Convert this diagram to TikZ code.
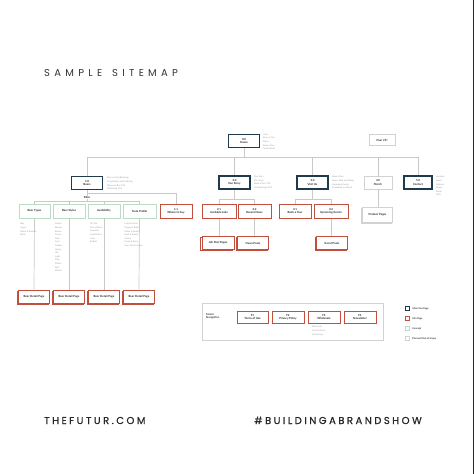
\documentclass[tikz,border=0pt]{standalone}
\usepackage{fontspec}
\setmainfont{Lato}
\newfontfamily\titlefont[LetterSpace=43]{Poppins}
\newfontfamily\tagfont[LetterSpace=25, FakeBold=0.6]{Poppins}
\usetikzlibrary{positioning, shadows}
\definecolor{navy}{HTML}{1E3A4C}
\definecolor{brick}{HTML}{C24F3D}
\definecolor{sage}{HTML}{BCDCC6}
\definecolor{ashgrey}{HTML}{D2D2D2}
\definecolor{wire}{HTML}{C9C9C9}
\definecolor{notegrey}{HTML}{9C9C9C}
\tikzset{
  page/.style={fill=white, minimum width=31pt, minimum height=13pt, inner sep=0pt, align=center, text=black!85, font=\fontsize{2.8}{3.3}\selectfont\bfseries},
  mainnav/.style={page, draw=navy, line width=1.3pt},
  infopage/.style={page, draw=brick, line width=1pt},
  concept/.style={page, draw=sage, line width=0.9pt},
  planned/.style={page, draw=ashgrey, line width=0.9pt},
  stack/.style={copy shadow={shadow xshift=-1.2pt, shadow yshift=-1.2pt, draw=brick, fill=white, line width=1pt}},
  notes/.style={anchor=north west, inner sep=0pt, align=left, text=notegrey, font=\fontsize{2.2}{3.6}\selectfont},
  link/.style={draw=wire, line width=0.7pt},
  keybox/.style={draw=#1, line width=0.8pt, fill=white, minimum size=4.5pt, inner sep=0pt},
  keytext/.style={right=2pt of #1, inner sep=0pt, font=\fontsize{2.4}{3}\selectfont\bfseries, text=black!80},
}

\begin{document}
\begin{tikzpicture}[x=1pt, y=-1pt]
  \useasboundingbox (0,0) rectangle (474,474);
  \fill[black!85] (472.8,0) rectangle (474,474);

  \node[anchor=base west, inner sep=0pt, font=\titlefont\fontsize{10}{12}\selectfont, text=black!80] (title) at (44,76) {SAMPLE\hspace{3pt} SITEMAP};

  % top level
  \node[mainnav] (home) at (244,141) {0.0\\Home};
  \node[planned, minimum width=26pt, minimum height=11pt] (over21) at (382,140) {Over 21?};
  \node[mainnav] (beers) at (87,183) {1.0\\Beers};
  \node[mainnav] (story) at (234.5,182.5) {2.0\\Our Story};
  \node[mainnav] (visit) at (312.5,182.5) {3.0\\Visit Us};
  \node[planned, minimum width=28pt] (merch) at (378,182.5) {4.0\\Merch};
  \node[mainnav, minimum width=28pt] (contact) at (418,182.5) {5.0\\Contact};

  % info pages
  \node[infopage, minimum width=32pt, minimum height=14pt] (buy) at (176,211) {1.1\\Where to buy};
  \node[infopage, minimum width=34pt, minimum height=14pt] (jobs) at (219,211) {2.1\\Available Jobs};
  \node[infopage, minimum width=33pt, minimum height=14pt] (news) at (254.5,211) {2.2\\Recent News};
  \node[infopage, minimum width=32pt, minimum height=14pt] (tour) at (295,211) {3.1\\Book a Tour};
  \node[infopage, minimum width=34pt, minimum height=14pt] (events) at (331,211) {3.2\\Upcoming Events};
  \node[infopage, stack, minimum width=32pt, minimum height=13pt] (jobposts) at (218,243) {Job Post Pages};
  \node[infopage, stack, minimum width=31pt, minimum height=13pt] (newsposts) at (253,243) {News Posts};
  \node[infopage, stack, minimum width=31pt, minimum height=13pt] (eventposts) at (332,243) {Event Posts};
  \node[planned, copy shadow={shadow xshift=-1pt, shadow yshift=-1pt, draw=ashgrey, fill=white}, minimum width=30pt, minimum height=15pt] (products) at (377.5,215) {Product Pages};

  % filter concepts
  \node[concept, minimum height=14pt] (types) at (34.5,211) {Beer Types};
  \node[concept, minimum width=32pt, minimum height=14pt] (styles) at (69,211) {Beer Styles};
  \node[concept, minimum width=32pt, minimum height=14pt] (avail) at (104,211) {Availability};
  \node[concept, minimum width=33pt, minimum height=14pt] (taste) at (139.5,211) {Taste Profile};
  \node[infopage, stack] (d-types) at (34,296.5) {Beer Detail Page};
  \node[infopage, stack] (d-styles) at (69,296.5) {Beer Detail Page};
  \node[infopage, stack] (d-avail) at (104,296.5) {Beer Detail Page};
  \node[infopage, stack] (d-taste) at (139,296.5) {Beer Detail Page};

  % connectors
  \foreach \kid in {beers, story, visit, merch, contact}
    \draw[link] (home.south) -- ++(0,9) -| (\kid.north);
  \draw[link] (beers.south) -- ++(0,3.5) -| (buy.north);
  \foreach \kid in {types, styles, avail, taste}{
    \draw[link] (beers.south) -- ++(0,11) -| (\kid.north);
    \draw[link] (\kid.south) -- (d-\kid.north);
  }
  \foreach \kid in {jobs, news}
    \draw[link] (story.south) -- ++(0,9.5) -| (\kid.north);
  \foreach \kid in {tour, events}
    \draw[link] (visit.south) -- ++(0,9.5) -| (\kid.north);
  \draw[link] (jobs.south) -- (jobs.south |- jobposts.north);
  \draw[link] (news.south) -- (news.south |- newsposts.north);
  \draw[link] (events.south) -- (events.south |- eventposts.north);
  \draw[link] (merch.south) -- (merch.south |- products.north);
  \node[fill=white, inner sep=0.6pt, font=\fontsize{2.6}{3}\selectfont\bfseries] (filter) at (87,197.5) {Filter};

  % notes
  \node[notes] (n-home) at (263,133.5) {Intro\\Beer on Tap\\Menu\\Book a Tour\\Testimonials};
  \node[notes] (n-beers) at (107,177) {Beer on Tap (Rotating)\\List of Beers with Filtering\\Where to Buy CTA\\Wholesale CTA};
  \node[notes] (n-story) at (254,176) {Our Story\\Our Team\\Book a Tour CTA\\Job Openings CTA};
  \node[notes] (n-visit) at (332,176) {Book a Tour\\Hours, Map and Tables\\Upcoming Events\\Guidelines to Attend};
  \node[notes] (n-contact) at (436,176) {Location\\Hours\\Address\\Phone\\Social\\FAQ};
  \node[notes] (n-types) at (20,223) {Ales\\Lagers\\Ciders \& Seltzers\\Malts};
  \node[notes] (n-styles) at (55,223) {Amber\\Blonde\\Brown\\Cream\\Dark\\Fruit\\Golden\\Honey\\IPA\\Light\\Pale\\Pilsner\\Red\\Wheat};
  \node[notes] (n-avail) at (90,223) {On Tap\\Out of Stock\\Seasonal\\Limited Run\\Cans\\Bottles};
  \node[notes] (n-taste) at (124.5,223) {Crisp \& Clean\\Hoppy \& Bitter\\Malty \& Sweet\\Dark \& Roasty\\Smoky\\Fruity \& Spicy\\Sour, Tart \& Funky};

  % footer navigation
  \node[draw=ashgrey, line width=0.8pt, minimum width=181pt, minimum height=37pt, inner sep=0pt] (footer) at (292.5,321.5) {};
  \node[anchor=north west, inner sep=0pt, align=left, font=\fontsize{2.7}{3.3}\selectfont\bfseries, text=black!80] (footlabel) at (206,313) {Footer\\Navigation};
  \node[infopage, minimum height=12pt] (terms) at (252.5,317) {F1\\Terms of Use};
  \node[infopage, minimum width=32pt, minimum height=12pt] (privacy) at (288,317) {F2\\Privacy Policy};
  \node[infopage, minimum width=32pt, minimum height=12pt] (wholesale) at (324,317) {F3\\Wholesale};
  \node[infopage, minimum width=32pt, minimum height=12pt] (letter) at (360,317) {F4\\Newsletter};
  \node[notes] (n-wholesale) at (312,326) {Retail Info\\Contact Form\\Get Pricing};

  % key
  \node[keybox=navy, line width=1.1pt] (k-main) at (407.5,308.5) {};
  \node[keytext=k-main] {Main Nav Page};
  \node[keybox=brick, line width=1pt] (k-info) at (407.5,318.5) {};
  \node[keytext=k-info] {Info Page};
  \node[keybox=sage] (k-concept) at (407.5,328.5) {};
  \node[keytext=k-concept] {Concept};
  \node[keybox=ashgrey] (k-planned) at (407.5,338.5) {};
  \node[keytext=k-planned] {Planned/Out of Scope};

  \node[anchor=base west, inner sep=0pt, font=\tagfont\fontsize{10}{12}\selectfont, text=black!85] (site) at (44,424) {THEFUTUR.COM};
  \node[anchor=base west, inner sep=0pt, font=\tagfont\fontsize{10}{12}\selectfont, text=black!85] (hashtag) at (254,424) {\#BUILDINGABRANDSHOW};
\end{tikzpicture}
\end{document}
